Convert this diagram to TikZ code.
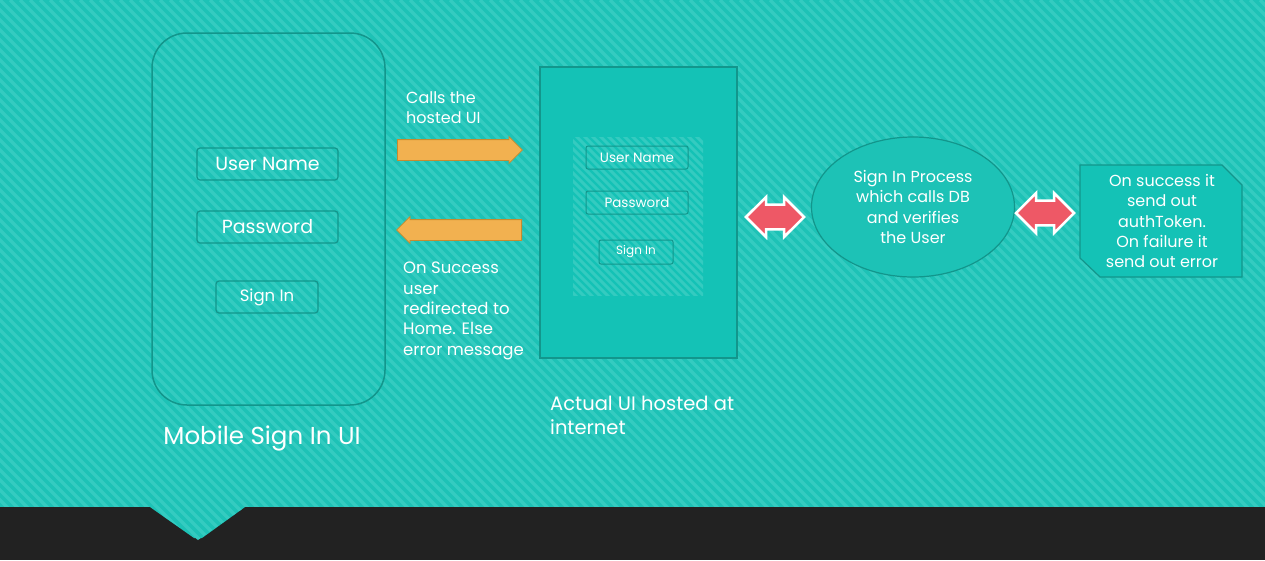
\documentclass[tikz,border=0pt]{standalone}
\usepackage{fontspec}
\setmainfont{Poppins}
\usetikzlibrary{shapes.arrows,shapes.geometric}
\definecolor{bg}{HTML}{1DC2B6}
\definecolor{stripe}{HTML}{34CBC0}
\definecolor{edge}{HTML}{12968C}
\definecolor{solid}{HTML}{14C2B6}
\definecolor{orng}{HTML}{F2B150}
\definecolor{orngd}{HTML}{C98A2E}
\definecolor{redd}{HTML}{EE5866}
\definecolor{dark}{HTML}{222222}
\tikzset{
 field/.style={draw=edge,line width=1.2pt,rounded corners=3pt,text=white,font=\fontsize{19}{19}\selectfont},
 sfield/.style={draw=edge,line width=1pt,rounded corners=2pt,text=white,font=\fontsize{13.5}{13.5}\selectfont},
 lbl/.style={text=white,align=left,font=\fontsize{14.5}{19}\selectfont,inner sep=0pt},
 oarrow/.style={single arrow,fill=orng,draw=orngd,line width=0.8pt,minimum height=125pt,minimum width=26pt,single arrow head extend=3pt,single arrow tip angle=90,inner xsep=0pt,inner ysep=10pt},
 rarrow/.style={double arrow,fill=redd,draw=white,line width=2.5pt,minimum height=58pt,minimum width=40pt,double arrow head extend=5pt,inner xsep=0pt,inner ysep=7pt}
}
\begin{document}
\begin{tikzpicture}[x=1pt,y=-1pt]
\useasboundingbox (0,0) rectangle (1265,560);
\fill[bg] (0,0) rectangle (1265,507);
\begin{scope}
\clip (0,0) rectangle (1265,507);
\foreach \i in {-60,...,130} {\draw[stripe,line width=3.5pt] (\i*10,0) -- (\i*10+560,560);}
\end{scope}
\fill[dark] (0,507) rectangle (1265,560);
\fill[bg] (150,507) -- (245,507) -- (202,538) -- (194,538) -- cycle;
\begin{scope}
\clip (150,507) -- (245,507) -- (198,540) -- cycle;
\foreach \i in {-60,...,130} {\draw[stripe,line width=3.5pt] (\i*10,0) -- (\i*10+560,560);}
\end{scope}
% phone
\node[draw=edge,line width=1.5pt,rounded corners=35pt,minimum width=233pt,minimum height=372pt,inner sep=0pt] (phone) at (268.5,219) {};
\node[field,minimum width=141pt,minimum height=32pt] (un) at (267.5,164) {User Name};
\node[field,minimum width=141pt,minimum height=32pt] (pw) at (267.5,227) {Password};
\node[field,minimum width=102pt,minimum height=32pt,font=\fontsize{16.5}{16.5}\selectfont] (si) at (267,297) {Sign In};
\node[text=white,font=\fontsize{24.5}{24.5}\selectfont,inner sep=0pt] (mt) at (262,438) {Mobile Sign In UI};
% hosted
\node[fill=solid,draw=edge,line width=1.2pt,minimum width=197pt,minimum height=291pt,inner sep=0pt] (host) at (638.5,212.5) {};
\begin{scope}
\clip (573,137) rectangle (703,295);
\foreach \i in {-60,...,130} {\draw[stripe,line width=3pt] (\i*8,0) -- (\i*8+560,560);}
\end{scope}
\node[sfield,minimum width=102pt,minimum height=23pt] (sun) at (637,157.5) {User Name};
\node[sfield,minimum width=102pt,minimum height=23pt] (spw) at (637,202.5) {Password};
\node[sfield,minimum width=74pt,minimum height=24pt,font=\fontsize{12}{12}\selectfont] (ssi) at (636,252) {Sign In};
\node[lbl,anchor=north west,font=\fontsize{19.5}{24}\selectfont] (ht) at (550,396) {Actual UI hosted at\\internet};
% arrows
\node[oarrow,anchor=tail] (a1) at (397,150) {};
\node[oarrow,shape border rotate=180,anchor=tail] (a2) at (522,230) {};
\node[lbl,anchor=north west,font=\fontsize{16}{20}\selectfont] (t1) at (406,91) {Calls the\\hosted UI};
\node[lbl,anchor=north west,font=\fontsize{16.5}{20.3}\selectfont] (t2) at (403,262) {On Success\\user\\redirected to\\Home. Else\\error message};
\node[rarrow] (r1) at (775,217) {};
% ellipse
\node[ellipse,fill=bg,draw=edge,line width=1.2pt,minimum width=203pt,minimum height=140pt,inner sep=0pt,text=white,align=center,font=\fontsize{16}{20.3}\selectfont] (proc) at (913,207) {Sign In Process\\which calls DB\\and verifies\\the User};
\node[rarrow,minimum height=58pt] (r2) at (1045,213) {};
% right box
\draw[fill=solid,draw=edge,line width=1.2pt] (1080,165) -- (1222,165) -- (1242,185) -- (1242,277) -- (1100,277) -- (1080,258) -- cycle;
\node[text=white,align=center,font=\fontsize{16}{20.3}\selectfont,inner sep=0pt] (res) at (1162,221) {On success it\\send out\\authToken.\\On failure it\\send out error};
\end{tikzpicture}
\end{document}
